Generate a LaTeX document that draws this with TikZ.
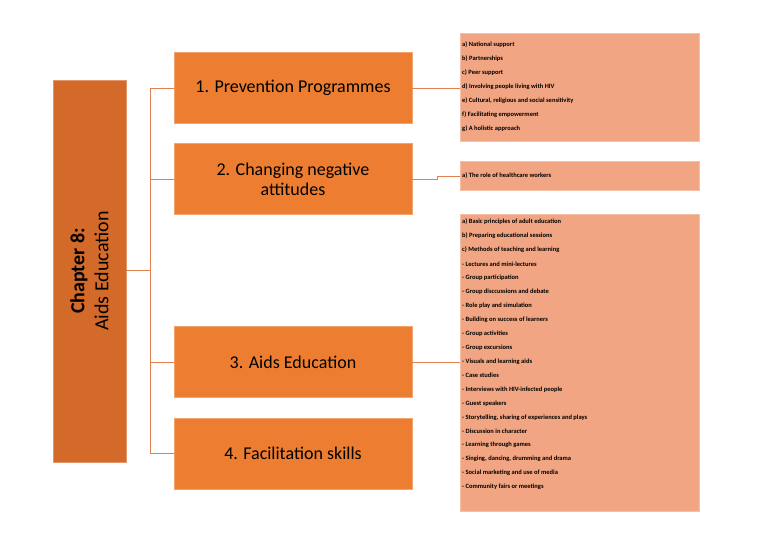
\documentclass[tikz,border=0pt]{standalone}
\usepackage{fontspec}
\setmainfont{Carlito}
\begin{document}
\begin{tikzpicture}[x=1pt,y=-1pt,
  main/.style={fill=mainor,draw=mainor!70!white,line width=0.6pt,minimum width=238pt,minimum height=71pt,inner sep=0pt,font=\fontsize{18}{20}\selectfont,align=center},
  info/.style={fill=infoor,draw=infoor!70!white,line width=0.6pt,anchor=north west,minimum width=239pt,inner sep=0pt},
  item/.style={anchor=west,font=\fontsize{6.5}{7}\selectfont\bfseries,inner sep=0pt},
  conn/.style={draw=lineor,line width=0.6pt}]
\definecolor{mainor}{HTML}{ED7D31}
\definecolor{chapor}{HTML}{D46A2A}
\definecolor{infoor}{HTML}{F2A582}
\definecolor{lineor}{HTML}{E08050}
\useasboundingbox (0,0) rectangle (768,543);
\node[fill=chapor,draw=chapor!70!white,minimum width=73pt,minimum height=382pt,inner sep=0pt] (ch) at (89.5,271) {};
\node[rotate=90,align=center,font=\fontsize{20}{24}\selectfont] (cht) at (ch.center) {\textbf{Chapter 8:}\\Aids Education};
\node[main] (b1) at (293,88) {1. Prevention Programmes};
\node[main] (b2) at (293,179) {2. Changing negative\\attitudes};
\node[main] (b3) at (293,362) {3. Aids Education};
\node[main] (b4) at (293,453.5) {4. Facilitation skills};
\node[info,minimum height=108pt] (i1) at (460,33) {};
\node[info,minimum height=29pt] (i2) at (460,161) {};
\node[info,minimum height=297pt] (i3) at (460,214) {};
\coordinate (j) at (150,270);
\draw[conn] (ch.east|-j) -- (j);
\draw[conn] (b1.west) -| (150,88) -- (150,453.5) -- (b4.west);
\draw[conn] (b2.west) -- (150,179);
\draw[conn] (b3.west) -- (150,362);
\draw[conn] (b1.east) -- (i1.west|-b1.east);
\draw[conn] (b2.east) -- (437,179) -- (437,176) -- (i2.west|-0,176);
\draw[conn] (b3.east) -- (i3.west|-b3.east);
\foreach \t [count=\k] in {a) National support,b) Partnerships,c) Peer support,d) Involving people living with HIV,{e) Cultural, religious and social sensitivity},f) Facilitating empowerment,g) A holistic approach}
  \node[item] (p\k) at (462,31+14*\k) {\t};
\node[item] (r1) at (462,176) {a) The role of healthcare workers};
\foreach \t [count=\k] in {a) Basic principles of adult education,b) Preparing educational sessions,c) Methods of teaching and learning,- Lectures and mini-lectures,- Group participation,- Group disccussions and debate,- Role play and simulation,- Building on success of learners,- Group activities,- Group excursions,- Visuals and learning aids,- Case studies,- Interviews with HIV-infected people,- Guest speakers,{- Storytelling, sharing of experiences and plays},- Discussion in character,- Learning through games,{- Singing, dancing, drumming and drama},- Social marketing and use of media,- Community fairs or meetings}
  \node[item] (q\k) at (462,208.1+13.95*\k) {\t};
\end{tikzpicture}
\end{document}
